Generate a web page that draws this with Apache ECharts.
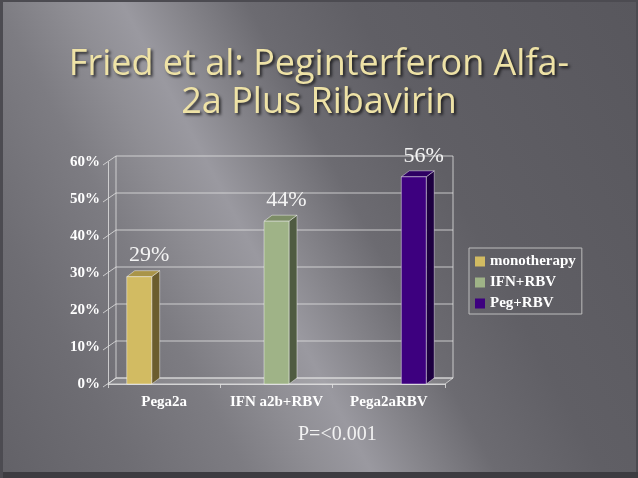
<!DOCTYPE html>
<html>
<head>
<meta charset="utf-8">
<script src="https://cdn.jsdelivr.net/npm/echarts@6/dist/echarts.min.js"></script>
<style>
  html, body { margin: 0; padding: 0; }
  #chart {
    width: 638px; height: 478px;
    background: linear-gradient(62deg, #626167 0%, #6e6d73 15%, #7d7c82 28%, #8f8e94 36%, #9a99a0 42%, #86858b 48%, #6c6b71 56%, #605f65 68%, #58575d 100%);
    box-shadow: inset 3px 0 0 #4c4b51, inset 0 2px 0 #4c4b51, inset 0 -6px 0 #3d3c41, inset -2px 0 0 #4c4b51;
  }
</style>
</head>
<body>
<div id="chart"></div>
<script>
const titleText = 'Fried et al: Peginterferon Alfa-\n2a Plus Ribavirin';
const categories = ['Pega2a', 'IFN a2b+RBV', 'Pega2aRBV'];
const seriesNames = ['monotherapy', 'IFN+RBV', 'Peg+RBV'];
const values = [29, 44, 56];
const yTicks = [0, 10, 20, 30, 40, 50, 60];
const noteText = 'P=<0.001';

const frontColors = ['#d2bb62', '#9fb387', '#3d007f'];
const sideColors = ['#6b5d2e', '#4f5b41', '#1d0040'];
const topColors = ['#a99448', '#7c8c66', '#2e0063'];
const DX = 8, DY = 6;
const lineCol = 'rgba(225,225,225,0.8)';

const chart = echarts.init(document.getElementById('chart'));

function frameRender(params, api) {
  const v = api.value(0);
  const band = api.size([1, 0])[0];
  const L = api.coord([0, v])[0] - band / 2;
  const R = api.coord([categories.length - 1, v])[0] + band / 2;
  const y = api.coord([0, v])[1];
  const children = [];
  const ls = { stroke: lineCol, lineWidth: 1 };
  if (v === yTicks[0]) {
    children.push({ type: 'polygon', shape: { points: [[L, y], [R, y], [R + DX, y - DY], [L + DX, y - DY]] },
      style: { fill: 'rgba(200,200,200,0.22)', stroke: lineCol, lineWidth: 1 } });
    const ytop = api.coord([0, yTicks[yTicks.length - 1]])[1];
    children.push({ type: 'line', shape: { x1: L + DX, y1: ytop - DY, x2: L + DX, y2: y - DY }, style: ls });
    children.push({ type: 'line', shape: { x1: R + DX, y1: ytop - DY, x2: R + DX, y2: y - DY }, style: ls });
  }
  children.push({ type: 'line', shape: { x1: L + DX, y1: y - DY, x2: R + DX, y2: y - DY }, style: ls });
  children.push({ type: 'line', shape: { x1: L - 5, y1: y + 3, x2: L + DX, y2: y - DY }, style: ls });
  return { type: 'group', children };
}

function barRender(sIdx) {
  return function (params, api) {
    const idx = api.value(0), v = api.value(1);
    const top = api.coord([idx, v]);
    const base = api.coord([idx, 0]);
    const band = api.size([1, 0])[0];
    const bw = band * 0.222;
    const off = (sIdx - 1) * bw;
    const x0 = top[0] + off - bw / 2, x1 = x0 + bw, y = top[1], yb = base[1];
    const edge = 'rgba(255,255,255,0.55)';
    return {
      type: 'group',
      children: [
        { type: 'polygon', shape: { points: [[x1, y], [x1 + DX, y - DY], [x1 + DX, yb - DY], [x1, yb]] },
          style: { fill: sideColors[sIdx], stroke: edge, lineWidth: 0.8 } },
        { type: 'polygon', shape: { points: [[x0, y], [x1, y], [x1 + DX, y - DY], [x0 + DX, y - DY]] },
          style: { fill: topColors[sIdx], stroke: edge, lineWidth: 0.8 } },
        { type: 'rect', shape: { x: x0, y: y, width: bw, height: yb - y },
          style: { fill: frontColors[sIdx], stroke: edge, lineWidth: 0.8 } },
        { type: 'text', x: (x0 + x1) / 2 + 10, y: y - 21,
          style: { text: v + '%', fill: '#f4f4f4', font: '22px "Liberation Serif"', align: 'center', verticalAlign: 'middle' } }
      ]
    };
  };
}

const series = [{
  type: 'custom', name: 'frame', z: 1, renderItem: frameRender,
  data: yTicks.map(v => [v]), encode: { y: 0 }, silent: true
}];
seriesNames.forEach((n, i) => {
  series.push({
    type: 'custom', name: n, z: 3, renderItem: barRender(i),
    itemStyle: { color: frontColors[i] },
    data: [[i, values[i]]], encode: { x: 0, y: 1 }
  });
});

chart.setOption({
  animation: false,
  title: {
    text: titleText, left: 'center', top: 41,
    textStyle: { fontFamily: 'Open Sans', fontSize: 36, fontWeight: 'normal', color: '#eee2a6', lineHeight: 38,
      textShadowColor: 'rgba(0,0,0,0.7)', textShadowBlur: 3, textShadowOffsetX: 2, textShadowOffsetY: 2 }
  },
  legend: {
    data: seriesNames.map(n => ({ name: n, icon: 'rect' })),
    orient: 'vertical', left: 469, top: 248,
    itemWidth: 10, itemHeight: 10, itemGap: 6, padding: [6, 6, 3, 6],
    borderColor: '#bdbdbd', borderWidth: 1,
    textStyle: { color: '#ffffff', fontFamily: 'Liberation Serif', fontWeight: 'bold', fontSize: 15 }
  },
  grid: { left: 108, right: 193, top: 162, bottom: 94 },
  xAxis: {
    type: 'category', data: categories,
    axisLine: { show: true, lineStyle: { color: lineCol } },
    axisTick: { show: true, length: 4, lineStyle: { color: lineCol } },
    axisLabel: { interval: 0, color: '#ffffff', fontFamily: 'Liberation Serif', fontWeight: 'bold', fontSize: 15, margin: 11 }
  },
  yAxis: {
    type: 'value', min: 0, max: 60, interval: 10,
    axisLine: { show: true, lineStyle: { color: lineCol } },
    axisTick: { show: false },
    splitLine: { show: false },
    axisLabel: { formatter: '{value}%', color: '#ffffff', fontFamily: 'Liberation Serif', fontWeight: 'bold', fontSize: 15, margin: 8 }
  },
  graphic: [{
    type: 'text', x: 298, y: 435,
    style: { text: noteText, fill: '#f2f2f2', font: '20px "Liberation Serif"', verticalAlign: 'middle' }
  }],
  series
});
</script>
</body>
</html>
